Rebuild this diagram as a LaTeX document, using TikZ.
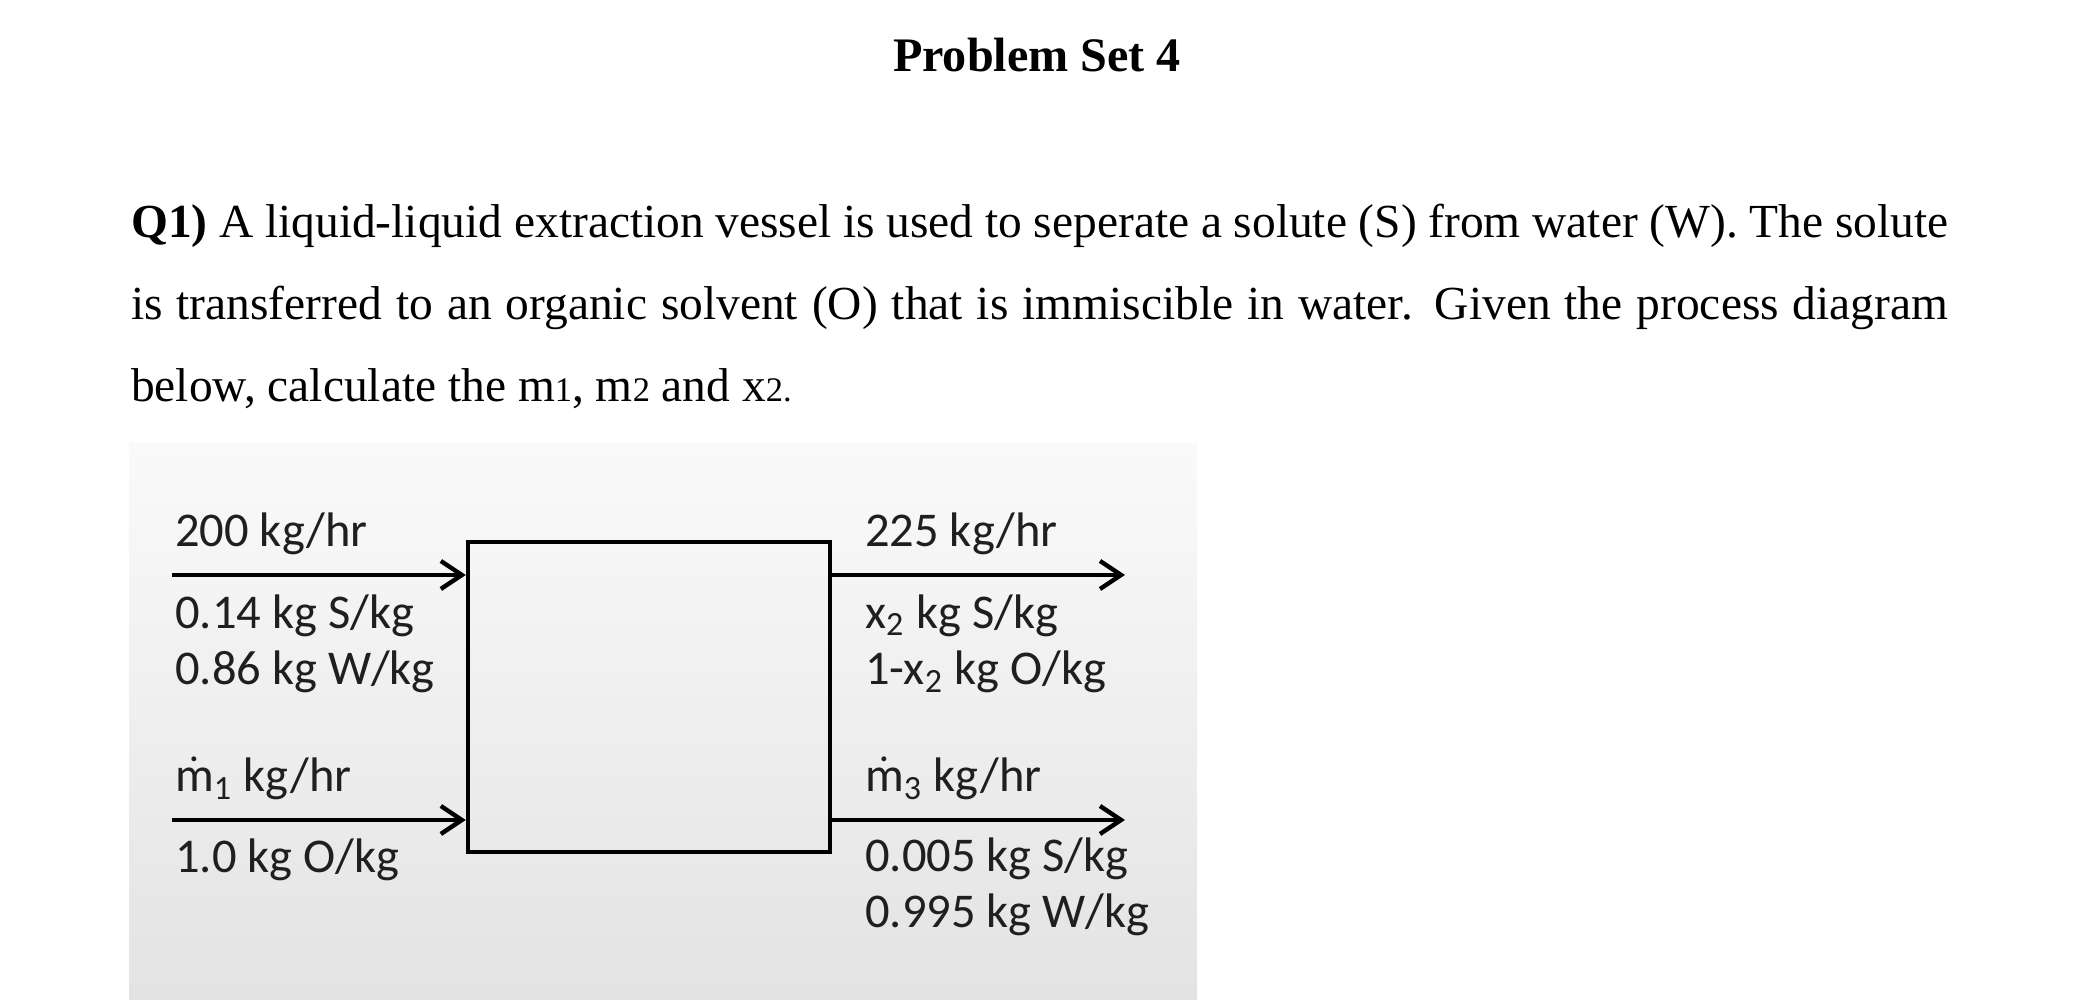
\documentclass[tikz,border=0pt]{standalone}
\usepackage{amsmath}
\usepackage{fontspec}
\setmainfont{Liberation Serif}
\newfontfamily\calibri{Carlito}
\usetikzlibrary{positioning, arrows.meta}
\newcommand{\smalldig}[1]{{\fontsize{9.8}{9.8}\selectfont #1}}

\begin{document}
\begin{tikzpicture}[-, line width=1.25pt,
    vessel/.style={draw, minimum width=3.62cm, minimum height=3.10cm, inner sep=0pt},
    flow/.style={-{Straight Barb[length=2.1mm, width=2.8mm]}},
    lbl/.style={font=\calibri\fontsize{13.8}{16.2}\selectfont, text=black!88, anchor=base west, align=left, inner sep=0pt},
    question/.style={font=\fontsize{13.5}{23.3}\selectfont, text width=18.17cm, align=justify, anchor=base west, inner sep=0pt}]
			\useasboundingbox (0,0) rectangle (20.82,10);
			
			% grey panel of the sketch
			\shade[top color=black!2, bottom color=black!11] (1.29,0) rectangle (11.97,5.56);
			
			\node[anchor=base, inner sep=0pt, font=\bfseries\fontsize{13.7}{16}\selectfont] (title) at (10.37,9.28) {Problem Set 4};
			\node[question] (q1) at (1.29,7.62) {\hyphenpenalty=10000 \textbf{Q1)} A liquid-liquid extraction vessel is used to seperate a solute (S) from water (W). The solute\linebreak is transferred to an organic solvent (O) that is immiscible in water. Given the process diagram\linebreak below, calculate the m\smalldig{1}, m\smalldig{2} and x\smalldig{2.}};
			
			\node[vessel] (box) at (6.49,3.03) {};
			
			\coordinate (feed) at (1.72,4.25);
			\coordinate (solv) at (1.72,1.80);
			\coordinate (extr) at (11.25,4.25);
			\coordinate (raff) at (11.25,1.80);
			
			\draw[flow] (feed) -- (feed -| box.west);
			\draw[flow] (solv) -- (solv -| box.west);
			\draw[flow] (box.east |- extr) -- (extr);
			\draw[flow] (box.east |- raff) -- (raff);
			
			% two-line labels sit on their last line
			\node[lbl] (feedrate) at (1.73,4.53) {200 kg/hr};
			\node[lbl] (feedcomp) at (1.73,3.15) {0.14 kg S/kg\\0.86 kg W/kg};
			\node[lbl] (solvrate) at (1.73,2.08) {$\dot{\text{m}}$\textsubscript{1} kg/hr};
			\node[lbl] (solvcomp) at (1.73,1.27) {1.0 kg O/kg};
			\node[lbl] (extrrate) at (8.63,4.53) {225 kg/hr};
			\node[lbl] (extrcomp) at (8.63,3.15) {x\textsubscript{2} kg S/kg\\1-x\textsubscript{2} kg O/kg};
			\node[lbl] (raffrate) at (8.63,2.08) {$\dot{\text{m}}$\textsubscript{3} kg/hr};
			\node[lbl] (raffcomp) at (8.63,0.72) {0.005 kg S/kg\\0.995 kg W/kg};
		\end{tikzpicture}
\end{document}
